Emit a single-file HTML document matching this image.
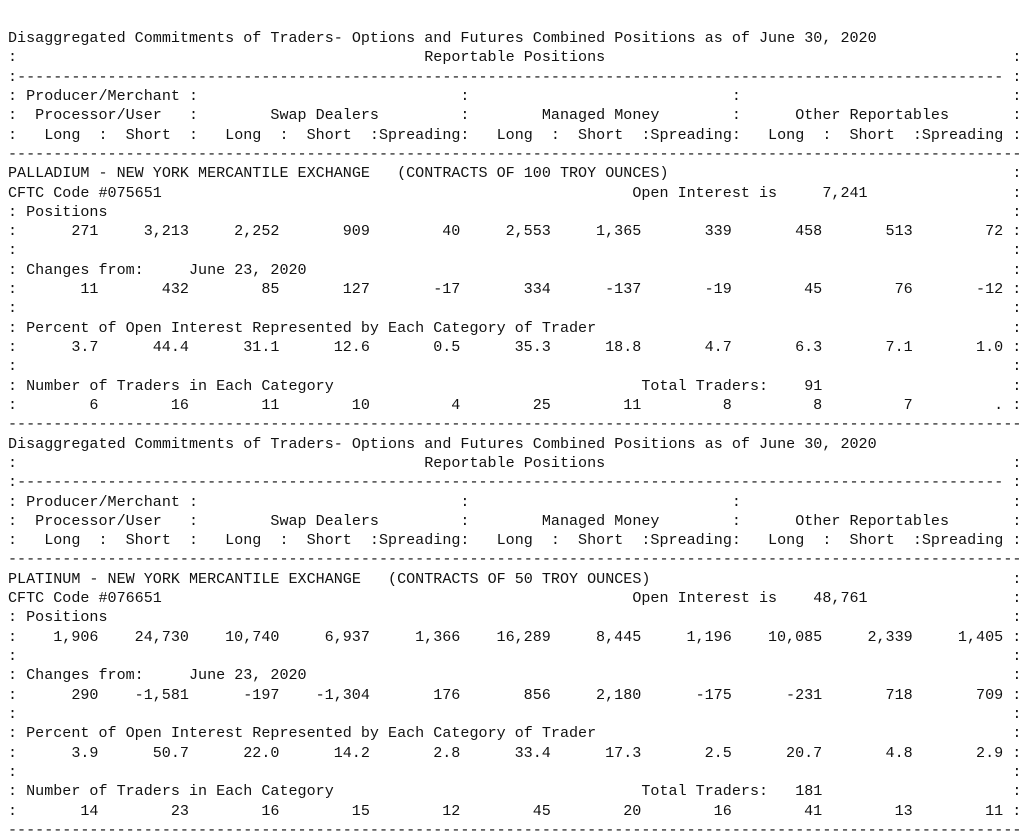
<!DOCTYPE html>
<html><head><meta charset="utf-8">
<style>
html,body{margin:0;padding:0;background:#fff;}
body{width:1030px;height:838px;overflow:hidden;position:relative;}
#t{position:absolute;left:8px;top:29px;font-family:"Liberation Mono",monospace;font-size:15.08px;line-height:19.317px;color:#111;}
.l{position:relative;height:19.317px;white-space:pre;width:1020px;}
.l i{position:absolute;top:0;font-style:normal;}
.l b{font-weight:normal;display:inline-block;width:10ch;text-align:right;}
.l b.f{width:9ch;}
.d{display:inline-block;overflow:hidden;vertical-align:top;white-space:pre;}
</style></head><body>
<div id="t">
<div class="l">Disaggregated Commitments of Traders- Options and Futures Combined Positions as of June 30, 2020</div>
<div class="l">:<i style="left:46ch">Reportable Positions</i><i style="left:111ch">:</i></div>
<div class="l">:<span class="d" style="width:109ch">------------------------------------------------------------------------------------------------------------------------</span><i style="left:111ch">:</i></div>
<div class="l">: Producer/Merchant :<i style="left:50ch">:</i><i style="left:80ch">:</i><i style="left:111ch">:</i></div>
<div class="l">:<i style="left:3ch">Processor/User</i><i style="left:20ch">:</i><i style="left:29ch">Swap Dealers</i><i style="left:50ch">:</i><i style="left:59ch">Managed Money</i><i style="left:80ch">:</i><i style="left:87ch">Other Reportables</i><i style="left:111ch">:</i></div>
<div class="l">:   Long  :  Short  :   Long  :  Short  :Spreading:   Long  :  Short  :Spreading:   Long  :  Short  :Spreading :</div>
<div class="l"><span class="d" style="width:112ch">------------------------------------------------------------------------------------------------------------------------</span></div>
<div class="l">PALLADIUM - NEW YORK MERCANTILE EXCHANGE   (CONTRACTS OF 100 TROY OUNCES)<i style="left:111ch">:</i></div>
<div class="l">CFTC Code #075651<i style="left:69ch">Open Interest is</i><i style="left:90ch">7,241</i><i style="left:111ch">:</i></div>
<div class="l">: Positions<i style="left:111ch">:</i></div>
<div class="l">:<b class="f">271</b><b>3,213</b><b>2,252</b><b>909</b><b>40</b><b>2,553</b><b>1,365</b><b>339</b><b>458</b><b>513</b><b>72</b> :</div>
<div class="l">:<i style="left:111ch">:</i></div>
<div class="l">: Changes from:     June 23, 2020<i style="left:111ch">:</i></div>
<div class="l">:<b class="f">11</b><b>432</b><b>85</b><b>127</b><b>-17</b><b>334</b><b>-137</b><b>-19</b><b>45</b><b>76</b><b>-12</b> :</div>
<div class="l">:<i style="left:111ch">:</i></div>
<div class="l">: Percent of Open Interest Represented by Each Category of Trader<i style="left:111ch">:</i></div>
<div class="l">:<b class="f">3.7</b><b>44.4</b><b>31.1</b><b>12.6</b><b>0.5</b><b>35.3</b><b>18.8</b><b>4.7</b><b>6.3</b><b>7.1</b><b>1.0</b> :</div>
<div class="l">:<i style="left:111ch">:</i></div>
<div class="l">: Number of Traders in Each Category<i style="left:70ch">Total Traders:</i><i style="left:88ch">91</i><i style="left:111ch">:</i></div>
<div class="l">:<b class="f">6</b><b>16</b><b>11</b><b>10</b><b>4</b><b>25</b><b>11</b><b>8</b><b>8</b><b>7</b><b>.</b> :</div>
<div class="l"><span class="d" style="width:112ch">------------------------------------------------------------------------------------------------------------------------</span></div>
<div class="l">Disaggregated Commitments of Traders- Options and Futures Combined Positions as of June 30, 2020</div>
<div class="l">:<i style="left:46ch">Reportable Positions</i><i style="left:111ch">:</i></div>
<div class="l">:<span class="d" style="width:109ch">------------------------------------------------------------------------------------------------------------------------</span><i style="left:111ch">:</i></div>
<div class="l">: Producer/Merchant :<i style="left:50ch">:</i><i style="left:80ch">:</i><i style="left:111ch">:</i></div>
<div class="l">:<i style="left:3ch">Processor/User</i><i style="left:20ch">:</i><i style="left:29ch">Swap Dealers</i><i style="left:50ch">:</i><i style="left:59ch">Managed Money</i><i style="left:80ch">:</i><i style="left:87ch">Other Reportables</i><i style="left:111ch">:</i></div>
<div class="l">:   Long  :  Short  :   Long  :  Short  :Spreading:   Long  :  Short  :Spreading:   Long  :  Short  :Spreading :</div>
<div class="l"><span class="d" style="width:112ch">------------------------------------------------------------------------------------------------------------------------</span></div>
<div class="l">PLATINUM - NEW YORK MERCANTILE EXCHANGE   (CONTRACTS OF 50 TROY OUNCES)<i style="left:111ch">:</i></div>
<div class="l">CFTC Code #076651<i style="left:69ch">Open Interest is</i><i style="left:89ch">48,761</i><i style="left:111ch">:</i></div>
<div class="l">: Positions<i style="left:111ch">:</i></div>
<div class="l">:<b class="f">1,906</b><b>24,730</b><b>10,740</b><b>6,937</b><b>1,366</b><b>16,289</b><b>8,445</b><b>1,196</b><b>10,085</b><b>2,339</b><b>1,405</b> :</div>
<div class="l">:<i style="left:111ch">:</i></div>
<div class="l">: Changes from:     June 23, 2020<i style="left:111ch">:</i></div>
<div class="l">:<b class="f">290</b><b>-1,581</b><b>-197</b><b>-1,304</b><b>176</b><b>856</b><b>2,180</b><b>-175</b><b>-231</b><b>718</b><b>709</b> :</div>
<div class="l">:<i style="left:111ch">:</i></div>
<div class="l">: Percent of Open Interest Represented by Each Category of Trader<i style="left:111ch">:</i></div>
<div class="l">:<b class="f">3.9</b><b>50.7</b><b>22.0</b><b>14.2</b><b>2.8</b><b>33.4</b><b>17.3</b><b>2.5</b><b>20.7</b><b>4.8</b><b>2.9</b> :</div>
<div class="l">:<i style="left:111ch">:</i></div>
<div class="l">: Number of Traders in Each Category<i style="left:70ch">Total Traders:</i><i style="left:87ch">181</i><i style="left:111ch">:</i></div>
<div class="l">:<b class="f">14</b><b>23</b><b>16</b><b>15</b><b>12</b><b>45</b><b>20</b><b>16</b><b>41</b><b>13</b><b>11</b> :</div>
<div class="l"><span class="d" style="width:112ch">------------------------------------------------------------------------------------------------------------------------</span></div>
</div>
</body></html>
